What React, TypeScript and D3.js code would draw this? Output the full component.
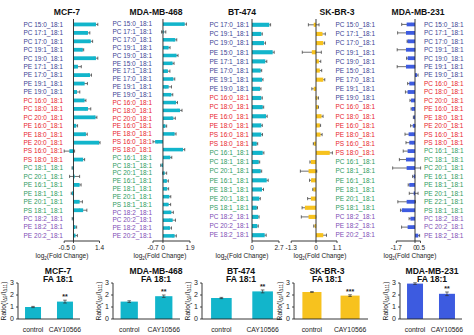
import React from "react";
import * as d3 from "d3";

// ---------- Top panels data ----------
const mcf7Labels = ["PC 15:0_18:1","PC 17:1_18:1","PC 17:0_18:1","PC 19:1_18:1","PC 19:0_18:1","PE 17:1_18:1","PE 17:0_18:1","PE 19:1_18:1","PE 19:0_18:1","PC 16:0_18:1","PC 18:0_18:1","PC 20:0_18:1","PE 16:0_18:1","PE 18:0_18:1","PE 20:0_18:1","PS 16:0_18:1","PS 18:0_18:1","PC 18:1_18:1","PC 20:1_18:1","PE 16:1_18:1","PE 18:1_18:1","PE 20:1_18:1","PS 18:1_18:1","PC 18:2_18:1","PE 18:2_18:1","PE 20:2_18:1"];
const mcf7Values = [1.21,0.78,0.93,0.5,1.21,0.24,0.89,0.6,0.19,0.6,0.78,1.19,0.15,0.67,1.38,-0.22,0.52,-0.05,0.06,0.33,-0.08,0.33,0.52,-0.04,0.11,0.11];
const mcf7Errors = [0.1,0.1,0.1,0.05,0.1,0.18,0.08,0.15,0.15,0.07,0.15,0.07,0.07,0.07,0.05,0.28,0.08,0.03,0.27,0.08,0.04,0.15,0.2,0.03,0.06,0.1];

const mb468Labels = ["PC 15:0_18:1","PC 17:1_18:1","PC 17:0_18:1","PC 19:1_18:1","PC 19:0_18:1","PE 15:0_18:1","PE 17:1_18:1","PE 17:0_18:1","PE 19:1_18:1","PE 19:0_18:1","PC 16:0_18:1","PC 18:0_18:1","PC 20:0_18:1","PE 16:0_18:1","PE 18:0_18:1","PS 16:0_18:1","PS 18:0_18:1","PC 16:1_18:1","PC 18:1_18:1","PC 20:1_18:1","PE 16:1_18:1","PE 18:1_18:1","PE 20:1_18:1","PS 18:1_18:1","PC 18:2_18:1","PC 20:2_18:1","PE 18:2_18:1","PE 20:2_18:1"];
const mb468Values = [1.53,0.05,0.87,0.4,0.96,0.68,0.35,0.73,0.4,0.59,0.92,1.2,0.73,0.18,0.82,-0.55,1.41,0.52,-0.1,0.12,0.28,0.3,0.45,0.4,0.59,0.68,0.5,0.82];
const mb468Errors = [0.12,0.15,0.1,0.1,0.1,0.1,0.14,0.1,0.2,0.1,0.1,0.14,0.14,0.08,0.1,0.15,0.12,0.1,0.06,0.14,0.1,0.1,0.1,0.14,0.14,0.2,0.1,0.12];

const bt474Labels = ["PC 17:0_18:1","PC 19:1_18:1","PC 19:0_18:1","PE 15:0_18:1","PE 17:1_18:1","PE 17:0_18:1","PE 19:1_18:1","PE 19:0_18:1","PC 16:0_18:1","PC 18:0_18:1","PE 16:0_18:1","PE 18:0_18:1","PS 16:0_18:1","PS 18:0_18:1","PC 16:1_18:1","PC 18:1_18:1","PC 20:1_18:1","PE 16:1_18:1","PE 18:1_18:1","PE 20:1_18:1","PS 18:1_18:1","PC 18:2_18:1","PC 20:2_18:1","PE 18:2_18:1"];
const bt474Values = [1.73,0.93,1.2,2.07,1.33,0.87,1.0,0.8,0.93,1.07,1.4,0.93,0.93,0.47,1.07,0.67,0.87,1.47,1.0,0.73,0.47,0.63,0.53,1.27];
const bt474Errors = [0.13,0.1,0.15,0.15,0.15,0.1,0.1,0.1,0.1,0.1,0.12,0.1,0.12,0.1,0.12,0.1,0.1,0.15,0.15,0.1,0.08,0.08,0.1,0.15];

const skbr3Labels = ["PC 15:0_18:1","PC 17:1_18:1","PC 17:0_18:1","PC 19:1_18:1","PC 19:0_18:1","PE 15:0_18:1","PE 17:0_18:1","PE 19:1_18:1","PE 19:0_18:1","PC 16:0_18:1","PC 18:0_18:1","PE 16:0_18:1","PE 18:0_18:1","PS 16:0_18:1","PS 18:0_18:1","PC 16:1_18:1","PC 18:1_18:1","PE 16:1_18:1","PE 18:1_18:1","PE 20:1_18:1","PS 18:1_18:1","PC 18:2_18:1","PE 18:2_18:1","PE 20:2_18:1"];
const skbr3Values = [-0.12,0.34,0.38,-0.22,0.15,0.2,0.38,-0.12,0.07,0.1,0.29,0.2,0.24,-0.1,0.72,-0.27,-0.39,-0.26,-0.14,-0.27,-0.58,-0.39,-0.07,0.38];
const skbr3Errors = [0.28,0.15,0.07,0.5,0.1,0.1,0.08,0.1,0.06,0.03,0.08,0.04,0.08,0.04,0.14,0.05,0.43,0.08,0.03,0.17,0.15,0.38,0.05,0.17];

const mb231Labels = ["PC 15:0_18:1","PC 17:1_18:1","PC 17:0_18:1","PC 19:1_18:1","PC 19:0_18:1","PE 19:1_18:1","PE 19:0_18:1","PC 16:0_18:1","PC 18:0_18:1","PC 20:0_18:1","PE 16:0_18:1","PE 18:0_18:1","PE 20:0_18:1","PS 16:0_18:1","PS 18:0_18:1","PC 16:1_18:1","PC 18:1_18:1","PC 20:1_18:1","PE 16:1_18:1","PE 18:1_18:1","PE 20:1_18:1","PE 22:1_18:1","PS 18:1_18:1","PC 18:2_18:1","PC 20:2_18:1","PE 18:2_18:1"];
const mb231Values = [-0.76,-0.82,-0.67,-0.82,-0.67,-0.82,0.18,-0.52,-0.67,-0.36,-0.3,-0.12,-0.2,-0.58,-0.52,-0.67,-0.82,-0.76,-0.12,-0.52,-0.12,-0.76,-1.2,-0.42,-0.67,0.3];
const mb231Errors = [0.45,0.76,0.05,0.8,0.1,0.8,0.1,0.15,0.2,0.1,0.06,0.03,0.2,0.33,0.3,0.4,0.6,1.27,0.1,0.1,0.4,0.8,0.12,0.12,0.55,0.12];

const cellNames = ["MCF-7", "MDA-MB-468", "BT-474", "SK-BR-3", "MDA-MB-231"];
const axisDomains = [[-0.5, 1.4], [-0.7, 1.9], [0, 2.7], [-1.3, 1.1], [-1.7, 0.5]];
const axisTickLabels = [["-0.5", "0", "1.4"], ["-0.7", "0", "1.9"], ["0", "2.7"], ["-1.3", "0", "1.1"], ["-1.7", "0", "0.5"]];

// ---------- Bottom panels data ----------
const groups = ["control", "CAY10566"];
const ratioControl = [1.0, 1.45, 1.75, 2.25, 2.95];
const ratioControlErr = [0.05, 0.07, 0.05, 0.03, 0.07];
const ratioTreated = [1.45, 1.9, 2.3, 1.95, 2.1];
const ratioTreatedErr = [0.12, 0.1, 0.12, 0.07, 0.15];
const significance = ["**", "**", "**", "***", "**"];
const ratioTicks = [0, 1, 2, 3];

// ---------- Layout / style ----------
const FONT = "'Liberation Sans', Arial, sans-serif";
const barColors = ["#12B5CB", "#12B5CB", "#12B5CB", "#F7C21E", "#3D5BE0"];
const groupColor = (label: string) => {
  const chain = label.split(" ")[1].split("_")[0];
  const [c, db] = chain.split(":").map(Number);
  if (c % 2 === 1) return "#3B4494";
  if (db === 0) return "#E8242B";
  if (db === 1) return "#2E9B5E";
  return "#7E4DB5";
};

const topLayout = [
  { range: [64.2, 99.5], side: "left", labelX: 63, titleX: 67, xlabelX: 62 },
  { range: [153, 190], side: "left", labelX: 152, titleX: 156, xlabelX: 160 },
  { range: [252, 279], side: "left", labelX: 249, titleX: 242, xlabelX: 242 },
  { range: [291.2, 337], side: "right", labelX: 335.5, titleX: 337, xlabelX: 320 },
  { range: [396.3, 420.5], side: "right", labelX: 424, titleX: 418, xlabelX: 410 },
];
const bottomLayout = [
  { x0: 18, x1: 80, titleX: 58 },
  { x0: 113, x1: 180, titleX: 156 },
  { x0: 202, x1: 282, titleX: 241 },
  { x0: 294, x1: 368, titleX: 327 },
  { x0: 400, x1: 462, titleX: 432 },
];

const ROW_TOP = 19;
const ROW_BOTTOM = 241;
const LABEL_W = 39.5;

function TopPanel({ idx, labels, values, errors }: any) {
  const L = topLayout[idx];
  const x = d3.scaleLinear().domain(axisDomains[idx]).range(L.range);
  const y = d3.scaleBand<string>().domain(labels).range([ROW_TOP + 1, ROW_BOTTOM - 1]).paddingInner(0.55).paddingOuter(0.3);
  const bw = y.bandwidth();
  const x0 = x(0);
  const tickVals = axisTickLabels[idx].map(Number);
  return (
    <g>
      <text x={L.titleX} y={15} textAnchor="middle" fontSize={8.6} fontWeight="bold" fontFamily={FONT} fill="#111">{cellNames[idx]}</text>
      {labels.map((l: string, i: number) => {
        const yc = (y(l) as number) + bw / 2;
        const v = values[i];
        const e = errors[i];
        const xa = x(v - e), xb = x(v + e);
        const tx = L.side === "left" ? L.labelX - LABEL_W : L.labelX;
        return (
          <g key={l}>
            <text x={tx} y={yc + 2.3} fontSize={6.6} fontFamily={FONT} fill={groupColor(l)} textLength={LABEL_W} lengthAdjust="spacingAndGlyphs">{l}</text>
            <line x1={xa} x2={xb} y1={yc} y2={yc} stroke="#333" strokeWidth={0.7} />
            <line x1={xa} x2={xa} y1={yc - 1.6} y2={yc + 1.6} stroke="#333" strokeWidth={0.7} />
            <line x1={xb} x2={xb} y1={yc - 1.6} y2={yc + 1.6} stroke="#333" strokeWidth={0.7} />
            <rect x={Math.min(x0, x(v))} y={y(l)} width={Math.abs(x(v) - x0)} height={bw} fill={barColors[idx]} />
          </g>
        );
      })}
      <line x1={x0} x2={x0} y1={ROW_TOP} y2={ROW_BOTTOM} stroke="#222" strokeWidth={0.9} />
      <line x1={L.range[0]} x2={L.range[1]} y1={ROW_BOTTOM} y2={ROW_BOTTOM} stroke="#222" strokeWidth={0.9} />
      {tickVals.map((t, i) => (
        <g key={i}>
          <line x1={x(t)} x2={x(t)} y1={ROW_BOTTOM} y2={ROW_BOTTOM + 2} stroke="#222" strokeWidth={0.8} />
          <text x={x(t)} y={ROW_BOTTOM + 8.5} textAnchor="middle" fontSize={6.5} fontFamily={FONT} fill="#222">{axisTickLabels[idx][i]}</text>
        </g>
      ))}
      <text x={L.xlabelX} y={ROW_BOTTOM + 17} textAnchor="middle" fontSize={6.5} fontFamily={FONT} fill="#222">
        log<tspan fontSize={4.6} dy={1.5}>2</tspan><tspan dy={-1.5}>(Fold Change)</tspan>
      </text>
    </g>
  );
}

function BottomPanel({ idx }: any) {
  const L = bottomLayout[idx];
  const y = d3.scaleLinear().domain([0, 3]).range([319, 283]);
  const x = d3.scaleBand<string>().domain(groups).range([L.x0, L.x1]).paddingInner(0.5).paddingOuter(0.22);
  const bw = x.bandwidth();
  const vals = [ratioControl[idx], ratioTreated[idx]];
  const errs = [ratioControlErr[idx], ratioTreatedErr[idx]];
  return (
    <g>
      <text x={L.titleX} y={273.5} textAnchor="middle" fontSize={8.6} fontWeight="bold" fontFamily={FONT} fill="#111">{cellNames[idx]}</text>
      <text x={L.titleX} y={282} textAnchor="middle" fontSize={8.6} fontWeight="bold" fontFamily={FONT} fill="#111">FA 18:1</text>
      {groups.map((g, i) => {
        const bx = x(g) as number;
        const cx = bx + bw / 2;
        const v = vals[i], e = errs[i];
        return (
          <g key={g}>
            <rect x={bx} y={y(v)} width={bw} height={y(0) - y(v)} fill={barColors[idx]} />
            <line x1={cx} x2={cx} y1={y(v - e)} y2={y(v + e)} stroke="#333" strokeWidth={0.7} />
            <line x1={cx - 1.8} x2={cx + 1.8} y1={y(v + e)} y2={y(v + e)} stroke="#333" strokeWidth={0.7} />
            <line x1={cx - 1.8} x2={cx + 1.8} y1={y(v - e)} y2={y(v - e)} stroke="#333" strokeWidth={0.7} />
            {i === 1 && (
              <text x={cx} y={y(v + e) - 1} textAnchor="middle" fontSize={7} fontWeight="bold" fontFamily={FONT} fill="#222">{significance[idx]}</text>
            )}
            <text x={cx} y={331.5} textAnchor="middle" fontSize={6.8} fontFamily={FONT} fill="#222">{g}</text>
          </g>
        );
      })}
      <line x1={L.x0} x2={L.x0} y1={283} y2={319} stroke="#222" strokeWidth={0.9} />
      <line x1={L.x0} x2={L.x1} y1={319} y2={319} stroke="#222" strokeWidth={0.9} />
      {ratioTicks.map((t) => (
        <g key={t}>
          <line x1={L.x0 - 2} x2={L.x0} y1={y(t)} y2={y(t)} stroke="#222" strokeWidth={0.8} />
          <text x={L.x0 - 4} y={y(t) + 2.4} textAnchor="end" fontSize={7} fontFamily={FONT} fill="#222">{t}</text>
        </g>
      ))}
      <text transform={`translate(${L.x0 - 12},301) rotate(-90)`} textAnchor="middle" fontSize={6.6} fontFamily={FONT} fill="#222">
        Ratio(I<tspan fontSize={4.6} dy={1.3}>Δ9</tspan><tspan dy={-1.3}>/I</tspan><tspan fontSize={4.6} dy={1.3}>Δ11</tspan><tspan dy={-1.3}>)</tspan>
      </text>
    </g>
  );
}

export default function App() {
  const panels = [
    [mcf7Labels, mcf7Values, mcf7Errors],
    [mb468Labels, mb468Values, mb468Errors],
    [bt474Labels, bt474Values, bt474Errors],
    [skbr3Labels, skbr3Values, skbr3Errors],
    [mb231Labels, mb231Values, mb231Errors],
  ];
  return (
    <svg width={474} height={335} viewBox="0 0 474 335" style={{ position: "absolute", left: 0, top: 0, background: "#fff" }}>
      <rect width={474} height={335} fill="#fff" />
      {panels.map((p, i) => (
        <TopPanel key={i} idx={i} labels={p[0]} values={p[1]} errors={p[2]} />
      ))}
      {panels.map((_, i) => (
        <BottomPanel key={i} idx={i} />
      ))}
    </svg>
  );
}
